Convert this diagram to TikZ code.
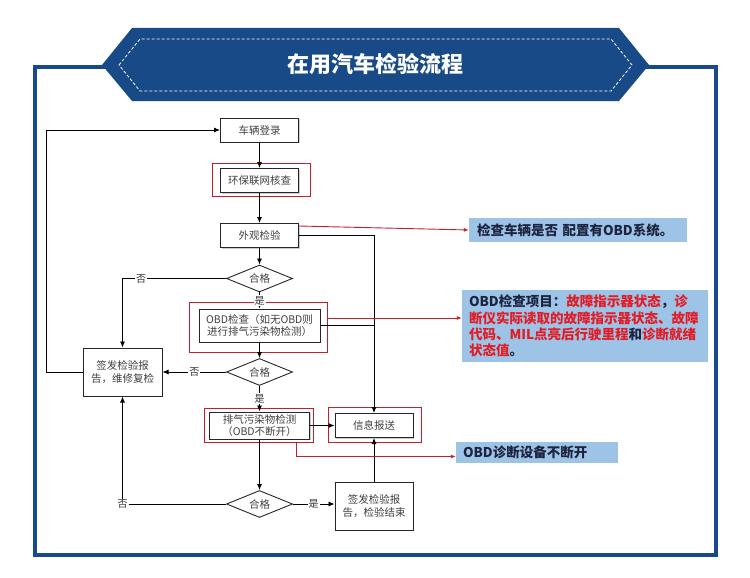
\documentclass[tikz,border=0pt]{standalone}
\usepackage{fontspec}
\newfontfamily\cjk{Noto Sans CJK SC}
\usetikzlibrary{shapes.geometric,shadows,arrows.meta}

\definecolor{framebl}{RGB}{23,74,135}
\definecolor{noteblue}{RGB}{157,195,230}
\definecolor{notetext}{RGB}{28,36,64}
\definecolor{notered}{RGB}{226,28,36}
\definecolor{linered}{RGB}{196,30,42}

\begin{document}
\begin{tikzpicture}[x=1pt, y=-1pt, >={Latex[length=6pt,width=5pt]}, every node/.style={font=\cjk}]

\def\bw{78pt}
\def\bh{24pt}
\def\midx{259.5}

\tikzset{
  box/.style={
    draw=black!85, line width=1pt, fill=white,
    minimum width=\bw, minimum height=\bh, inner sep=0pt, align=center,
    font=\cjk\fontsize{10.5}{12.5}\selectfont, text=black!75,
    drop shadow={shadow xshift=1pt, shadow yshift=-1pt, fill=black!40}
  },
  qdiamond/.style={
    diamond, aspect=2.4, draw=black!85, line width=0.9pt, fill=white,
    minimum width=66pt, minimum height=27pt, inner sep=0pt,
    font=\cjk\fontsize{10.5}{12.5}\selectfont, text=black!75
  },
  redframe/.style={draw=linered, line width=1pt, inner sep=0pt},
  flow/.style={->, draw=black, line width=0.8pt},
  plain/.style={draw=black, line width=0.8pt},
  redarrow/.style={-{Latex[length=5pt,width=4pt]}, draw=linered, line width=0.9pt},
  lbl/.style={fill=white, inner sep=1pt, font=\cjk\fontsize{10}{12}\selectfont, text=black!80},
  note/.style={
    fill=noteblue, text=notetext, inner ysep=0pt, align=left,
    font=\cjk\bfseries\fontsize{13.5}{16.3}\selectfont
  }
}

\useasboundingbox (0,0) rectangle (750,578);

% ---------- ramka i tytul ----------
\draw[framebl, line width=4pt] (35,67) rectangle (716,555);
\fill[framebl] (102,65) -- (132,28) -- (619,28) -- (649,65) -- (619,101) -- (132,101) -- cycle;
\draw[white, line width=0.8pt, dash pattern=on 3pt off 2pt]
  (119,65) -- (140,39) -- (611,39) -- (632,65) -- (611,91) -- (140,91) -- cycle;
\node[font=\cjk\bfseries\fontsize{22}{26}\selectfont, text=white] (title) at (375.5,64) {在用汽车检验流程};

% ---------- czerwone ramki ----------
\node[redframe, minimum width=98pt, minimum height=33pt] (envframe) at (261,179.5) {};
\node[redframe, minimum width=138pt, minimum height=50pt] (obdframe) at (258,327) {};
\node[redframe, minimum width=109pt, minimum height=34pt] (exhframe) at (258.5,425) {};
\node[redframe, minimum width=93pt, minimum height=35pt] (infoframe) at (374.5,424.5) {};

% ---------- kroki ----------
\node[box] (login) at (\midx,130) {车辆登录};
\node[box] (envcheck) at (\midx,180.5) {环保联网核查};
\node[box] (visual) at (\midx,235.5) {外观检验};
\node[qdiamond] (q1) at (\midx,278.5) {合格};
\node[box, minimum width=121pt, minimum height=33pt] (obd) at (\midx,325.5) {OBD检查（如无OBD则\\进行排气污染物检测）};
\node[qdiamond] (q2) at (\midx,372) {合格};
\node[box, minimum width=79pt, minimum height=48pt] (report1) at (122.5,372) {签发检验报\\告，维修复检};
\node[box, minimum width=100pt, minimum height=27pt] (exhaust) at (\midx,425.5) {排气污染物检测\\（OBD不断开）};
\node[box] (info) at (374,425.5) {信息报送};
\node[qdiamond] (q3) at (\midx,504) {合格};
\node[box, minimum height=48pt] (report2) at (374,506) {签发检验报\\告，检验结束};

% ---------- notatki ----------
\node[note, text width=202pt, inner xsep=8pt, minimum height=24pt] (note1) at (578,230) {检查车辆是否 配置有OBD系统。};
\node[note, text width=232pt, inner xsep=7pt, minimum height=72pt] (note2) at (585,326) {%
  OBD检查项目：\textcolor{notered}{故障指示器状态}，\textcolor{notered}{诊}\\
  \textcolor{notered}{断仪实际读取的故障指示器状态、故障}\\
  \textcolor{notered}{代码、MIL点亮后行驶里程}和\textcolor{notered}{诊断就绪}\\
  \textcolor{notered}{状态值}。};
\node[note, text width=148pt, inner xsep=7pt, minimum height=21pt] (note3) at (537,452.5) {OBD诊断设备不断开};

% ---------- strzalki ----------
\draw[flow] (login) -- (envcheck);
\draw[flow] (envcheck) -- (visual);
\draw[flow] (visual) -- (q1);
\draw[flow] (q1) -- node[lbl] {是} (obd);
\draw[flow] (obd) -- (q2);
\draw[flow] (q2) -- node[lbl] {是} (exhaust);
\draw[flow] (exhaust) -- (q3);
\draw[flow] (q3.east) -- node[lbl] {是} (q3.east -| report2.west);
\draw[flow] (q2) -- node[lbl] {否} (report1);
\draw[flow] (q1.west) -| node[lbl, pos=0.41] {否} (report1.north);
\draw[flow] (q3.west) -| node[lbl, pos=0.5] {否} (report1.south);
\draw[flow] (report1.west) -- ++(-36,0) |- (login.west);
\draw[flow] (exhaust) -- (info);
\draw[flow] (report2) -- (info);
\draw[flow] (visual.east) -| (info.north);
\draw[plain] (obd.east) -- (obd.east -| info.north);

% ---------- czerwone strzalki do notatek ----------
\draw[redarrow] ([yshift=-3pt]visual.north east) -- (note1.west);
\draw[redarrow] ([yshift=9pt]obdframe.east) -- ([yshift=9pt]obdframe.east -| note2.west);
\draw[redarrow] ([xshift=-17pt]exhframe.south east) |- ([yshift=-4pt]note3.west);

\end{tikzpicture}
\end{document}
